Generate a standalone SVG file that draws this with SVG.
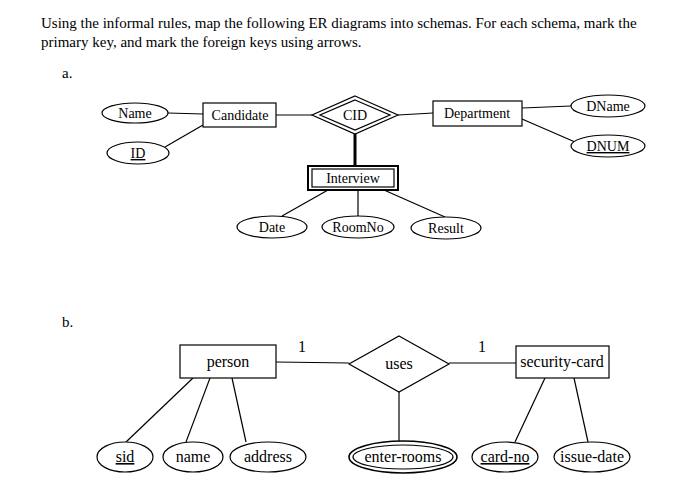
<svg xmlns="http://www.w3.org/2000/svg" width="700" height="488" viewBox="0 0 700 488">
<style>
text{font-family:"Liberation Serif",serif;fill:#000}
.t{font-size:15px}
.n{font-size:14px;text-anchor:middle}
.m{font-size:16px;text-anchor:middle}
.s{fill:#fff;stroke:#000;stroke-width:1.2}
.c line{stroke:#000;stroke-width:1.2}
</style>
<rect width="700" height="488" fill="#fff"/>
<text class="t" x="41" y="28">Using the informal rules, map the following ER diagrams into schemas. For each schema, mark the</text>
<text class="t" x="41" y="47">primary key, and mark the foreign keys using arrows.</text>
<text class="t" x="62" y="78">a.</text>
<text class="t" x="62" y="327">b.</text>
<g id="connectors" class="c">
<line x1="168" y1="113" x2="203" y2="114"/>
<line x1="165" y1="147" x2="203" y2="125"/>
<line x1="276" y1="115" x2="312" y2="115"/>
<line x1="398" y1="115" x2="433" y2="113"/>
<line x1="522" y1="108" x2="571" y2="106"/>
<line x1="522" y1="119" x2="575" y2="142"/>
<line x1="355" y1="134" x2="355" y2="167" style="stroke-width:3"/>
<line x1="328" y1="190" x2="282" y2="216"/>
<line x1="358" y1="190" x2="358" y2="216"/>
<line x1="384" y1="190" x2="445" y2="217"/>
<line x1="276" y1="362" x2="349" y2="363"/>
<line x1="449" y1="363" x2="516" y2="363"/>
<line x1="193" y1="378" x2="126" y2="442"/>
<line x1="210" y1="378" x2="186" y2="442"/>
<line x1="232" y1="378" x2="246" y2="442"/>
<line x1="399" y1="392" x2="399" y2="441"/>
<line x1="545" y1="378" x2="515" y2="442"/>
<line x1="574" y1="378" x2="588" y2="442"/>
</g>
<g id="Name"><ellipse class="s" cx="135" cy="113" rx="33" ry="10"/><text class="n" x="135" y="118">Name</text></g>
<g id="ID"><ellipse class="s" cx="138" cy="153" rx="31" ry="11"/><text class="n" x="138" y="158" text-decoration="underline">ID</text></g>
<g id="Candidate"><rect class="s" x="203" y="103" width="73" height="24"/><text class="n" x="240" y="120">Candidate</text></g>
<g id="CID"><polygon class="s" points="355,96 398,115 355,134 312,115"/><polygon class="s" points="355,100 390,115 355,130 320,115"/><text class="n" x="355" y="120">CID</text></g>
<g id="Department"><rect class="s" x="433" y="101" width="89" height="25"/><text class="n" x="477" y="118">Department</text></g>
<g id="DName"><ellipse class="s" cx="608" cy="106" rx="37" ry="11"/><text class="n" x="608" y="111">DName</text></g>
<g id="DNUM"><ellipse class="s" cx="608" cy="146" rx="37" ry="11"/><text class="n" x="608" y="151" text-decoration="underline">DNUM</text></g>
<g id="Interview"><rect class="s" x="308" y="166" width="90" height="24" style="stroke-width:2"/><rect class="s" x="312" y="169" width="82" height="18"/><text class="n" x="353" y="183">Interview</text></g>
<g id="Date"><ellipse class="s" cx="272" cy="227" rx="35" ry="11"/><text class="n" x="272" y="232">Date</text></g>
<g id="RoomNo"><ellipse class="s" cx="358" cy="227" rx="36" ry="11"/><text class="n" x="358" y="232">RoomNo</text></g>
<g id="Result"><ellipse class="s" cx="446" cy="228" rx="35" ry="11"/><text class="n" x="446" y="233">Result</text></g>
<g id="person"><rect class="s" x="180" y="345" width="96" height="33"/><text class="m" x="228" y="367">person</text></g>
<g id="uses"><polygon class="s" points="399,336 449,364 399,392 349,364"/><text class="m" x="399" y="369">uses</text></g>
<g id="security-card"><rect class="s" x="516" y="346" width="93" height="32"/><text class="m" x="562" y="367">security-card</text></g>
<text class="m" x="302" y="352">1</text>
<text class="m" x="482" y="352">1</text>
<g id="sid"><ellipse class="s" cx="125" cy="457" rx="28" ry="15"/><text class="m" x="125" y="462" text-decoration="underline">sid</text></g>
<g id="name"><ellipse class="s" cx="193" cy="457" rx="30" ry="15"/><text class="m" x="193" y="462">name</text></g>
<g id="address"><ellipse class="s" cx="268" cy="457" rx="38" ry="15"/><text class="m" x="268" y="462">address</text></g>
<g id="enter-rooms"><ellipse class="s" cx="403" cy="457" rx="54" ry="16" style="stroke-width:1.6"/><ellipse class="s" cx="403" cy="457" rx="50" ry="12"/><text class="m" x="403" y="462">enter-rooms</text></g>
<g id="card-no"><ellipse class="s" cx="505" cy="457" rx="33" ry="15"/><text class="m" x="505" y="462" text-decoration="underline">card-no</text></g>
<g id="issue-date"><ellipse class="s" cx="592" cy="457" rx="38" ry="15"/><text class="m" x="592" y="462">issue-date</text></g>
</svg>
